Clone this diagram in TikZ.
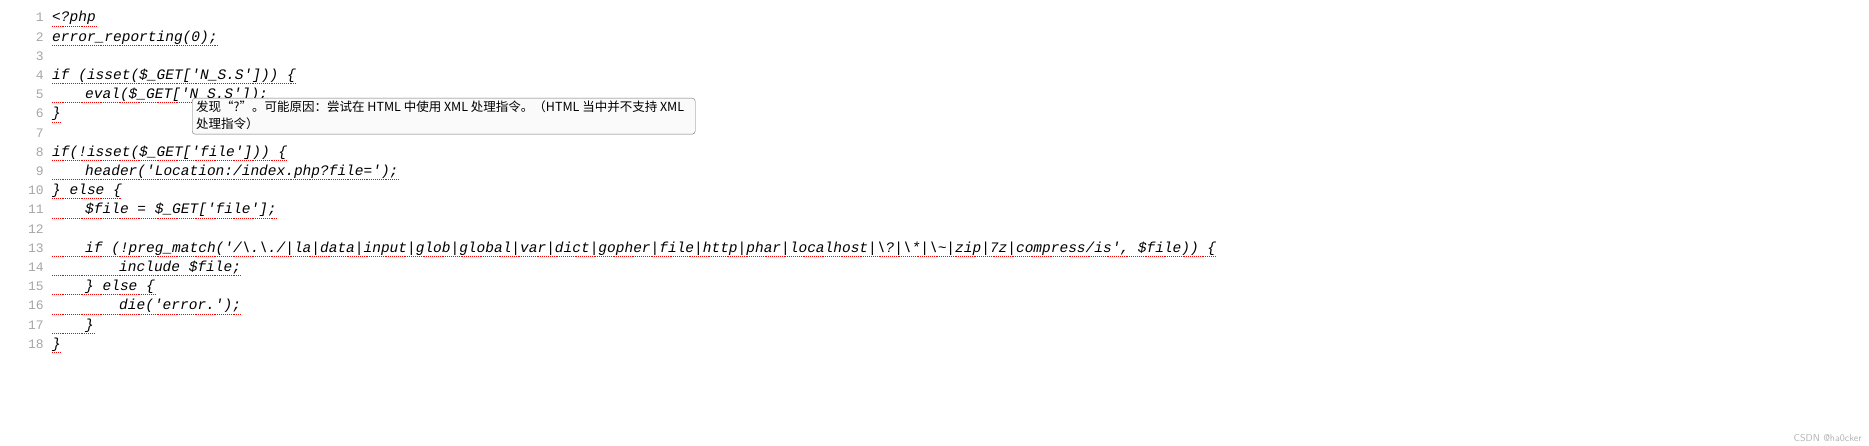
\documentclass[tikz,border=0pt]{standalone}
\usepackage{fontspec}
\newfontfamily\codefont{Liberation Mono}
\newfontfamily\cjk{Noto Sans CJK SC}
\begin{document}
\begin{tikzpicture}[x=1pt,y=-1pt,
  code/.style={anchor=base west,inner sep=0pt,font=\codefont\itshape\fontsize{14.5}{14.5}\selectfont,text=black},
  num/.style={anchor=base east,inner sep=0pt,font=\codefont\fontsize{13}{13}\selectfont,text=black!35},
  uline/.style={red,densely dotted,line width=0.9pt}]
\useasboundingbox (0,0) rectangle (1869,446);
\foreach \i in {1,...,18}{\node[num] (n\i) at (44,{22+19.2*(\i-1)}) {\i};}
\def\ln#1#2#3{\node[code] (l#1) at (#2,{22+19.2*(#1-1)}) {#3};
  \draw[uline] (52,{26+19.2*(#1-1)}) -- (l#1.base east |- 0,{26+19.2*(#1-1)});}
\ln{1}{52}{<?php}
\ln{2}{52}{error\_reporting(0);}
\ln{4}{52}{if (isset(\$\_GET['N\_S.S'])) \{}
\ln{5}{85}{eval(\$\_GET['N\_S.S']);}
\ln{6}{52}{\}}
\ln{8}{52}{if(!isset(\$\_GET['file'])) \{}
\ln{9}{85}{header('Location:/index.php?file=');}
\ln{10}{52}{\} else \{}
\ln{11}{85}{\$file = \$\_GET['file'];}
\ln{13}{85}{if (!preg\_match('/\textbackslash.\textbackslash./|la|data|input|glob|global|var|dict|gopher|file|http|phar|localhost|\textbackslash?|\textbackslash*|\textbackslash\textasciitilde|zip|7z|compress/is', \$file)) \{}
\ln{14}{119}{include \$file;}
\ln{15}{85}{\} else \{}
\ln{16}{119}{die('error.');}
\ln{17}{85}{\}}
\ln{18}{52}{\}}
\node[draw=black!55,fill=black!2,rounded corners=3pt,minimum width=503pt,minimum height=36pt,anchor=north west,inner sep=0pt] (tip) at (192,98) {};
\node[anchor=north west,inner sep=0pt,align=left,font=\cjk\fontsize{12.5}{17}\selectfont] (tiptext) at (196,101) {发现“?”。可能原因：尝试在 HTML 中使用 XML 处理指令。（HTML 当中并不支持 XML\\处理指令）};
\node[anchor=south east,inner sep=0pt,font=\sffamily\fontsize{10}{10}\selectfont,text=black!30] (wm) at (1862,442) {CSDN @ha0cker};
\end{tikzpicture}
\end{document}
